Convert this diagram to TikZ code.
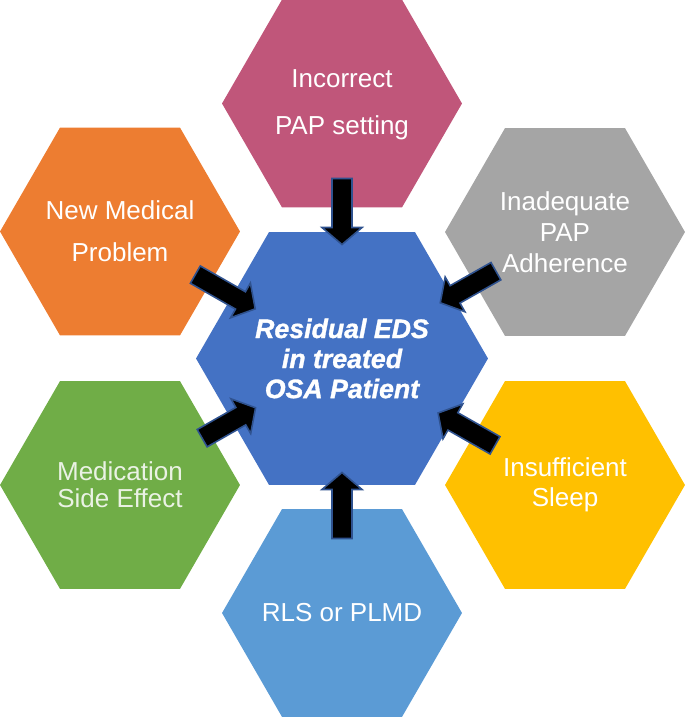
\documentclass[tikz,border=0pt]{standalone}
\usepackage{fontspec}
\setmainfont{Liberation Sans}
\newfontfamily\edsfont{Liberation Sans}[BoldItalicFeatures={FakeBold=1.2}]
\usetikzlibrary{shapes.geometric,calc}

\definecolor{pinkcell}{RGB}{192,86,122}
\definecolor{orangecell}{RGB}{237,125,49}
\definecolor{graycell}{RGB}{165,165,165}
\definecolor{bluecell}{RGB}{68,114,196}
\definecolor{greencell}{RGB}{112,173,71}
\definecolor{yellowcell}{RGB}{255,192,0}
\definecolor{skycell}{RGB}{91,155,213}
\definecolor{arrowrim}{RGB}{47,82,143}
\definecolor{greentext}{RGB}{234,242,228}

\tikzset{
  hexcell/.style={regular polygon, regular polygon sides=6, minimum size=4.8cm,
    inner sep=0pt, outer sep=0pt},
  celltext/.style={text=white, align=center, inner sep=0pt},
  arrowbody/.style={fill=black, draw=arrowrim, line width=0.9pt, line join=miter},
}

% block arrow from a cause cell into the centre cell (#2 tail, #3 tip distance)
\newcommand{\causearrow}[3]{%
  \coordinate (tl) at ($(eds)!#2!(#1)$);
  \coordinate (tp) at ($(eds)!#3!(#1)$);
  \coordinate (hb) at ($(tp)!0.34cm!(tl)$);
  \filldraw[arrowbody] ($(tl)!0.2cm!90:(tp)$) -- ($(hb)!0.2cm!90:(tp)$)
    -- ($(hb)!0.4cm!90:(tp)$) -- (tp) -- ($(hb)!0.4cm!-90:(tp)$)
    -- ($(hb)!0.2cm!-90:(tp)$) -- ($(tl)!0.2cm!-90:(tp)$) -- cycle;
}

\begin{document}
\begin{tikzpicture}[x=0.02cm, y=-0.02cm]
\useasboundingbox (0,0) rectangle (685,717);

% the six causes
\node[hexcell, fill=pinkcell] (pap) at (342,103.5) {};
\node[hexcell, fill=orangecell] (newmed) at (120,231.5) {};
\node[hexcell, fill=graycell] (adher) at (565,232) {};
\node[hexcell, fill=greencell] (sideeff) at (120,485) {};
\node[hexcell, fill=yellowcell] (sleep) at (565,485) {};
\node[hexcell, fill=skycell] (rls) at (342,613) {};
% centre
\node[hexcell, fill=bluecell, minimum size=5.84cm] (eds) at (342,358.5) {};

\node[celltext, font=\fontsize{14.8pt}{26.7pt}\selectfont]
  (paptext) at (342,105) {Incorrect\\PAP setting};
\node[celltext, font=\fontsize{14.8pt}{23.9pt}\selectfont]
  (newmedtext) at (newmed) {New Medical\\Problem};
\node[celltext, font=\fontsize{14.8pt}{17.6pt}\selectfont]
  (adhertext) at (adher) {Inadequate\\PAP\\Adherence};
\node[celltext, text=greentext, font=\fontsize{14.8pt}{15.4pt}\selectfont]
  (sideefftext) at (sideeff) {Medication\\Side Effect};
\node[celltext, font=\fontsize{14.8pt}{17.1pt}\selectfont]
  (sleeptext) at (sleep) {Insufficient\\Sleep};
\node[celltext, font=\fontsize{14.8pt}{17.1pt}\selectfont]
  (rlstext) at (rls) {RLS or PLMD};
\node[celltext, font=\edsfont\fontsize{15.2pt}{17.1pt}\bfseries\itshape\selectfont]
  (edstext) at (eds) {Residual EDS\\in treated\\OSA Patient};

\causearrow{pap}{3.6cm}{2.28cm}
\causearrow{newmed}{3.38cm}{2.0cm}
\causearrow{adher}{3.54cm}{2.26cm}
\causearrow{sideeff}{3.22cm}{1.99cm}
\causearrow{sleep}{3.52cm}{2.21cm}
\causearrow{rls}{3.6cm}{2.28cm}
\end{tikzpicture}
\end{document}
